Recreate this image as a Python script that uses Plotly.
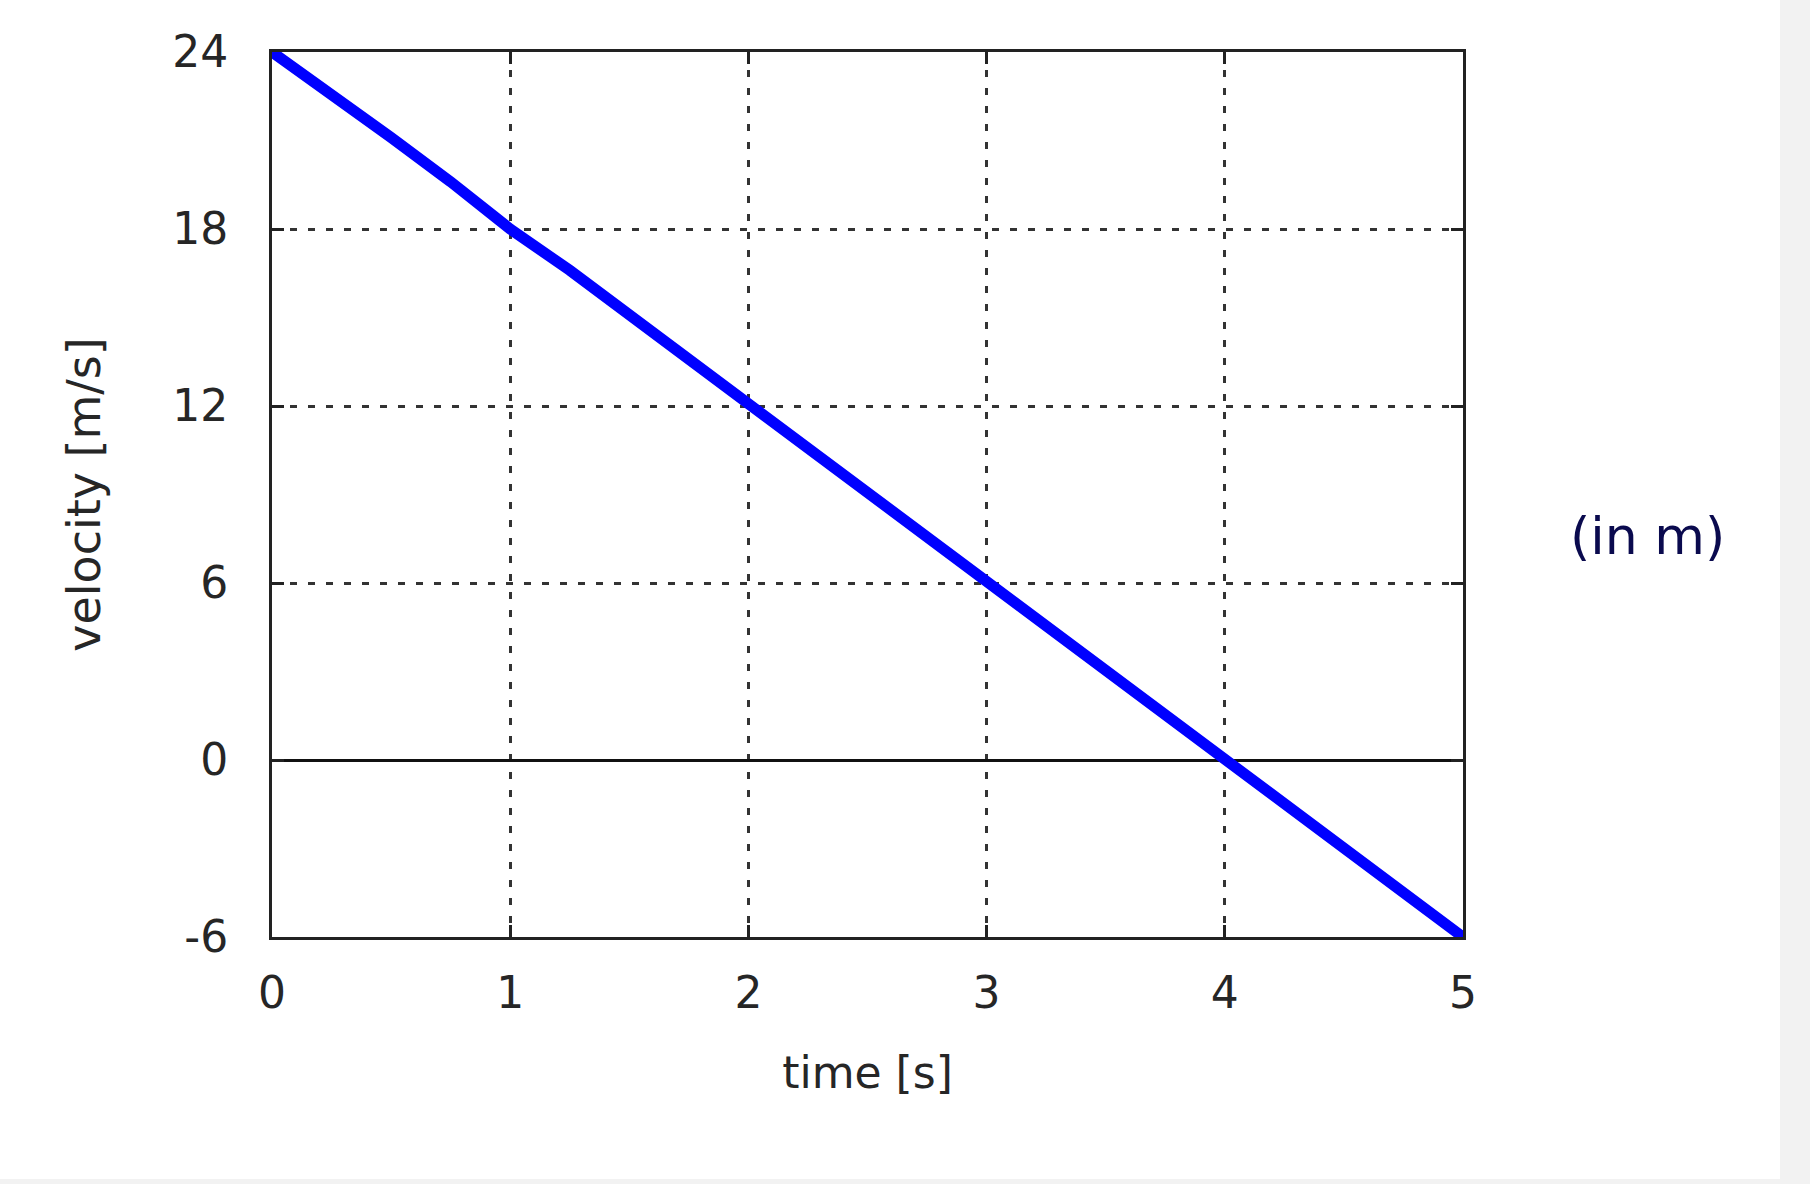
import plotly.graph_objects as go

# data
time_s = [0.0, 0.25, 0.5, 0.75, 1.0, 1.25, 1.5, 1.75, 2.0, 2.25, 2.5,
          2.75, 3.0, 3.25, 3.5, 3.75, 4.0, 4.25, 4.5, 4.75, 5.0]
velocity = [24.0, 22.6, 21.1, 19.6, 18.0, 16.6, 15.1, 13.5, 12.0, 10.6, 9.1,
            7.5, 6.0, 4.6, 3.1, 1.5, 0.0, -1.5, -3.0, -4.5, -6.0]
x_ticks = [0, 1, 2, 3, 4, 5]
y_ticks = [-6, 0, 6, 12, 18, 24]
x_title = "time [s]"
y_title = "velocity [m/s]"
side_note = "(in m)"

FONT = "DejaVu Sans"
TXT = "#262626"

fig = go.Figure()
fig.add_trace(go.Scatter(
    x=time_s, y=velocity, mode="lines",
    line=dict(color="#0000ff", width=11),
    showlegend=False, hoverinfo="skip",
))

axis_common = dict(
    showline=True, linecolor="#222222", linewidth=3, mirror="ticks",
    ticks="inside", ticklen=12, tickwidth=3, tickcolor="#222222",
    showgrid=True, gridcolor="#333333", gridwidth=3, griddash="7px,11px",
    tickfont=dict(family=FONT, size=44, color=TXT),
)

fig.update_xaxes(
    range=[0, 5], tickvals=x_ticks, ticktext=[str(v) for v in x_ticks],
    zeroline=False, ticklabelstandoff=15,
    title=dict(text=x_title, font=dict(family=FONT, size=44, color=TXT), standoff=41),
    **axis_common,
)
fig.update_yaxes(
    range=[-6, 24], tickvals=y_ticks, ticktext=[str(v) for v in y_ticks],
    zeroline=True, zerolinecolor="#111111", zerolinewidth=3,
    ticklabelstandoff=32,
    title=dict(text=y_title, font=dict(family=FONT, size=46, color=TXT), standoff=58),
    **axis_common,
)

fig.add_annotation(
    text=side_note, xref="paper", yref="paper", x=1.155, y=0.453,
    xanchor="center", yanchor="middle", showarrow=False,
    font=dict(family=FONT, size=52, color="#0a0a4e"),
)

fig.update_layout(
    width=1780, height=1179,
    margin=dict(l=272, r=317, t=52, b=242, autoexpand=False),
    paper_bgcolor="#ffffff", plot_bgcolor="#ffffff",
)

fig.write_html(
    "out.html",
    config={"displayModeBar": False},
    post_script="document.body.style.margin='0';document.body.style.background='#f2f2f2';",
)
